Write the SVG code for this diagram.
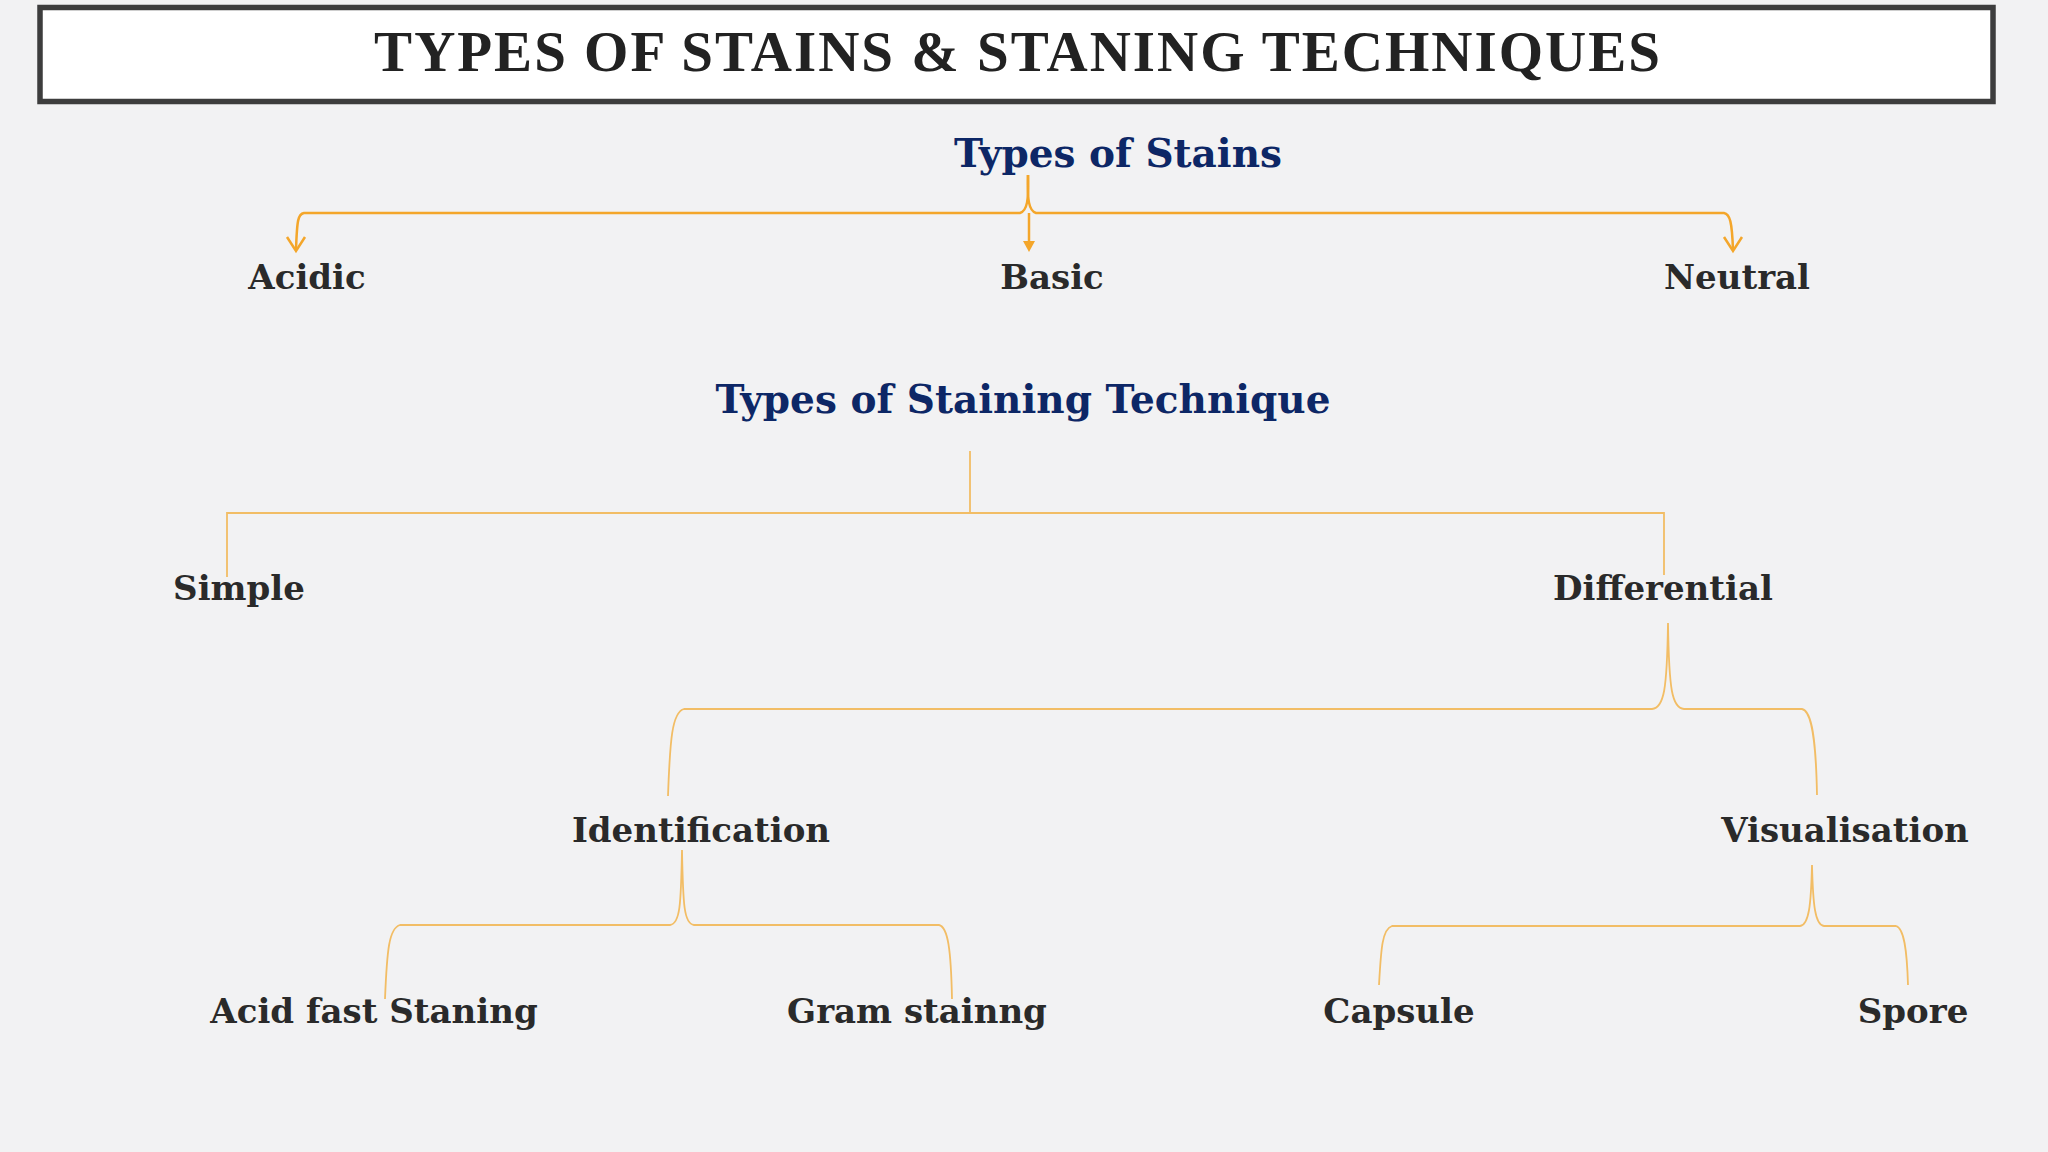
<svg xmlns="http://www.w3.org/2000/svg" width="2048" height="1152" viewBox="0 0 2048 1152">
<style>
.title{font-family:"Liberation Serif","Times New Roman",serif;font-weight:bold;font-size:57px;fill:#222;letter-spacing:2px;text-anchor:middle}
.head{font-family:"DejaVu Serif","Liberation Serif",serif;font-weight:bold;font-size:39px;fill:#0d2766;text-anchor:middle}
.lbl{font-family:"DejaVu Serif","Liberation Serif",serif;font-weight:bold;font-size:34px;fill:#2a2a2a;text-anchor:middle}
.c1{fill:none;stroke:#f4a62a;stroke-width:2.5}
.c2{fill:none;stroke:#f2bd65;stroke-width:1.8}
</style>
<rect width="2048" height="1152" fill="#f2f2f3"/>
<g id="title">
<rect x="40" y="7.5" width="1953" height="94" fill="#ffffff" stroke="#3d3d3d" stroke-width="5.5"/>
<text class="title" x="1018" y="71">TYPES OF STAINS &amp; STANING TECHNIQUES</text>
</g>
<g id="connectors">
<path class="c1" d="M1028 175 C1029 200 1027 211 1020 213 L304 213 C298 214 297 220 296 250"/>
<path class="c1" d="M1028 175 C1027 200 1029 211 1036 213 L1724 213 C1730 214 1732 222 1733 250"/>
<path d="M287 237 L296 251 L305 237" class="c1"/>
<path d="M1724 237 L1733 251 L1742 237" class="c1"/>
<line x1="1029" y1="213" x2="1029" y2="243" class="c1" stroke-width="2"/>
<path d="M1023 241 L1035 241 L1029 252 Z" fill="#f4a62a"/>
<path class="c2" d="M970 451 L970 513 M227 577 L227 513 L1664 513 L1664 575"/>
<path class="c2" d="M668 796 C670 740 672 712 684 709 L1652 709 C1664 708 1667 690 1668 623 C1669 690 1672 708 1684 709 L1802 709 C1812 711 1816 740 1817 795"/>
<path class="c2" d="M385 999 C387 950 389 928 400 925 L670 925 C680 924 681 905 682 850 C683 905 684 924 694 925 L939 925 C948 927 951 950 952 999"/>
<path class="c2" d="M1379 985 C1381 950 1382 929 1392 926 L1800 926 C1809 925 1811 905 1812 865 C1813 905 1815 925 1824 926 L1896 926 C1904 928 1907 950 1908 985"/>
</g>
<g id="types-of-stains"><text class="head" x="1118" y="167">Types of Stains</text></g>
<g id="acidic"><text class="lbl" x="307" y="289">Acidic</text></g>
<g id="basic"><text class="lbl" x="1052" y="289">Basic</text></g>
<g id="neutral"><text class="lbl" x="1737" y="289">Neutral</text></g>
<g id="types-of-staining-technique"><text class="head" x="1023" y="413">Types of Staining Technique</text></g>
<g id="simple"><text class="lbl" x="239" y="600">Simple</text></g>
<g id="differential"><text class="lbl" x="1663" y="600">Differential</text></g>
<g id="identification"><text class="lbl" x="701" y="842">Identification</text></g>
<g id="visualisation"><text class="lbl" x="1845" y="842">Visualisation</text></g>
<g id="acid-fast"><text class="lbl" x="374" y="1023">Acid fast Staning</text></g>
<g id="gram"><text class="lbl" x="917" y="1023">Gram stainng</text></g>
<g id="capsule"><text class="lbl" x="1399" y="1023">Capsule</text></g>
<g id="spore"><text class="lbl" x="1913" y="1023">Spore</text></g>
</svg>
